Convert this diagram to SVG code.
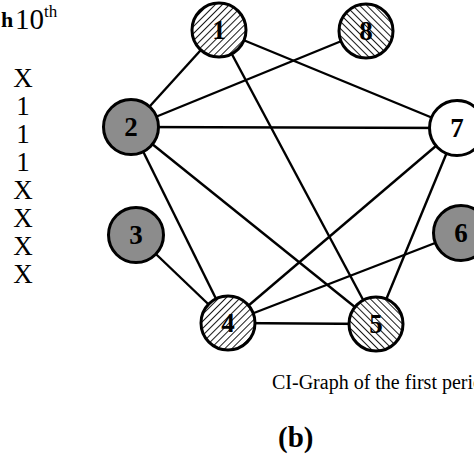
<svg xmlns="http://www.w3.org/2000/svg" width="474" height="474" viewBox="0 0 474 474">
<style>
.t{font-family:"Liberation Serif","Times New Roman",serif;fill:#000}
.edge{stroke:#000;stroke-width:2.4;fill:none}
.nd{stroke:#000;stroke-width:3}
.lbl{font-family:"Liberation Serif","Times New Roman",serif;font-weight:bold;font-size:27px;text-anchor:middle;fill:#000}
.gray{fill:#8c8c8c}
.white{fill:#fff}
.col{font-size:27px;text-anchor:middle}
</style>
<defs>
<pattern id="hatchA" patternUnits="userSpaceOnUse" width="5" height="5" patternTransform="rotate(45)">
<rect width="5" height="5" fill="#fff"/>
<line x1="0" y1="0" x2="0" y2="5" stroke="#000" stroke-width="1.8"/>
</pattern>
<pattern id="hatchB" patternUnits="userSpaceOnUse" width="5" height="5" patternTransform="rotate(-45)">
<rect width="5" height="5" fill="#fff"/>
<line x1="0" y1="0" x2="0" y2="5" stroke="#000" stroke-width="1.8"/>
</pattern>
</defs>
<rect width="474" height="474" fill="#fff"/>
<g id="table" class="t">
<text x="1" y="27" font-size="22" font-weight="bold">h</text>
<text x="15" y="29" font-size="29">10</text>
<text x="44" y="17" font-size="17">th</text>
<g class="col">
<text x="23" y="87">X</text>
<text x="23" y="115">1</text>
<text x="23" y="143">1</text>
<text x="23" y="171">1</text>
<text x="23" y="199">X</text>
<text x="23" y="227">X</text>
<text x="23" y="255">X</text>
<text x="23" y="283">X</text>
</g>
</g>
<g id="connectors" class="edge">
<line x1="219" y1="30" x2="131" y2="127"/>
<line x1="219" y1="30" x2="457" y2="128"/>
<line x1="219" y1="30" x2="376" y2="324"/>
<line x1="366" y1="31" x2="131" y2="127"/>
<line x1="131" y1="127" x2="457" y2="128"/>
<line x1="131" y1="127" x2="228" y2="323"/>
<line x1="131" y1="127" x2="376" y2="324"/>
<line x1="457" y1="128" x2="228" y2="323"/>
<line x1="457" y1="128" x2="376" y2="324"/>
<line x1="136" y1="235" x2="228" y2="323"/>
<line x1="461" y1="233" x2="228" y2="323"/>
<line x1="228" y1="323" x2="376" y2="324"/>
</g>
<g id="node1"><circle class="nd" cx="219" cy="30" r="27" fill="url(#hatchA)"/><text class="lbl" x="219" y="39">1</text></g>
<g id="node8"><circle class="nd" cx="366" cy="31" r="27" fill="url(#hatchB)"/><text class="lbl" x="366" y="40">8</text></g>
<g id="node2"><circle class="nd gray" cx="131" cy="127" r="27.5"/><text class="lbl" x="131" y="136">2</text></g>
<g id="node7"><circle class="nd white" cx="457" cy="128" r="27.5"/><text class="lbl" x="457" y="137">7</text></g>
<g id="node3"><circle class="nd gray" cx="136" cy="235" r="27.5"/><text class="lbl" x="136" y="244">3</text></g>
<g id="node6"><circle class="nd gray" cx="461" cy="233" r="27.5"/><text class="lbl" x="461" y="242">6</text></g>
<g id="node4"><circle class="nd" cx="228" cy="323" r="27" fill="url(#hatchA)"/><text class="lbl" x="228" y="332">4</text></g>
<g id="node5"><circle class="nd" cx="376" cy="324" r="27" fill="url(#hatchB)"/><text class="lbl" x="376" y="333">5</text></g>
<text class="t" x="272" y="389" font-size="20">CI-Graph of the first period</text>
<text class="t" x="278" y="447" font-size="29" font-weight="bold">(b)</text>
</svg>
